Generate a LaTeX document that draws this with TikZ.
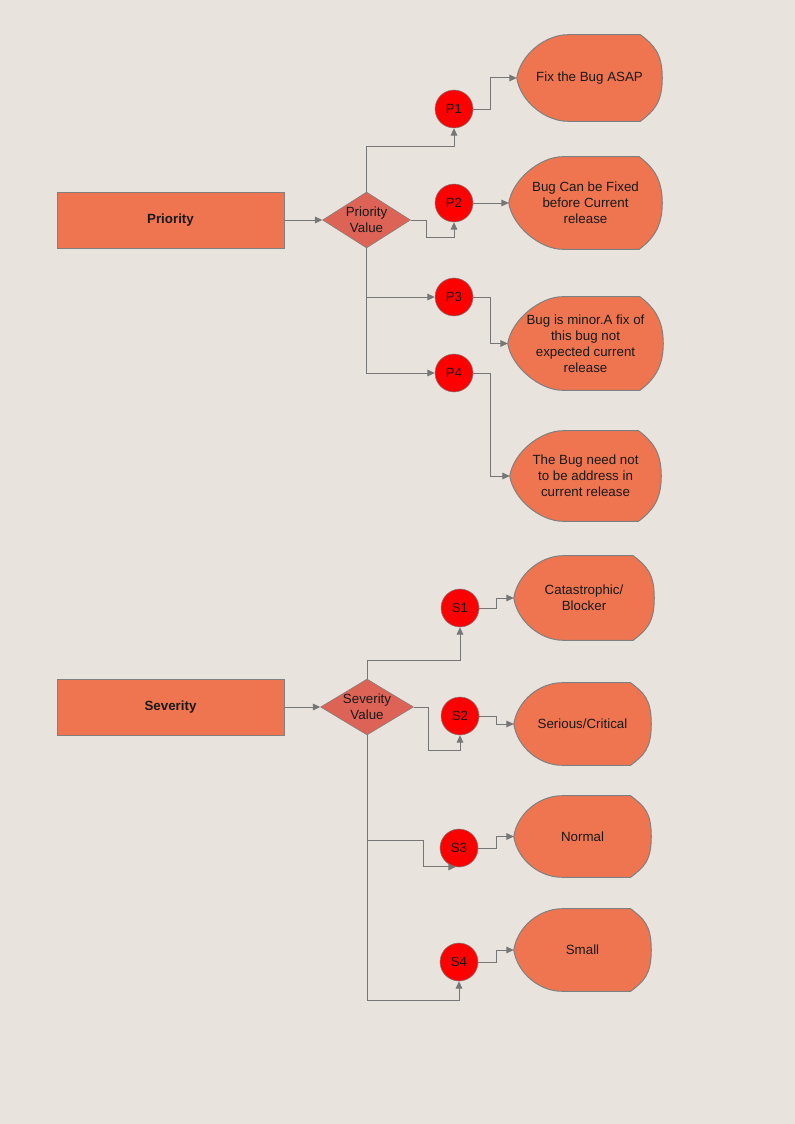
\documentclass[tikz,border=0pt]{standalone}
\usepackage{fontspec}
\setmainfont{Liberation Sans}
\usetikzlibrary{positioning,calc,arrows.meta,backgrounds,shapes.geometric}
\definecolor{pagebg}{RGB}{232,228,221}
\definecolor{boxorange}{RGB}{238,117,79}
\definecolor{diamondred}{RGB}{221,99,86}
\definecolor{edgegray}{RGB}{128,128,128}
\definecolor{conngray}{RGB}{118,118,118}
\definecolor{textdark}{RGB}{25,25,25}
\tikzset{
    every node/.style={font=\fontsize{10}{12}\selectfont, text=textdark},
    box/.style={%
        draw=edgegray, fill=boxorange,
        minimum width=170.25pt,
        minimum height=42pt,
        font=\fontsize{10}{12}\selectfont\bfseries
    },
    decision/.style={%
        diamond, draw=edgegray, fill=diamondred,
        minimum width=#1, minimum height=42pt,
        shape aspect=1.6, inner sep=-1.5pt, align=center
    },
    decision/.default=66pt,
    level/.style={circle, draw=edgegray, fill=red, minimum size=28.5pt, inner sep=0pt},
    outcome/.style={minimum width=#1, inner sep=0pt, align=center},
    outcome/.default=102.75pt,
    outcome line/.style={draw=edgegray, fill=boxorange, line width=0.75pt},
    conn/.style={draw=conngray, line width=0.75pt, -{Triangle[length=5.5pt,width=5pt]}}
}
% outline of an outcome, drawn behind its text node
\newcommand{\outcomeshape}[1]{%
    \begin{pgfonlayer}{background}
        \path[outcome line] (#1.west)
            .. controls +(4,-24) and +(-22,0) .. ($(#1.north west)!0.35!(#1.north east)$)
            -- ($(#1.north west)!0.85!(#1.north east)$)
            .. controls +(13,10) and +(0,-25) .. (#1.east)
            .. controls +(0,25) and +(13,-10) .. ($(#1.south west)!0.85!(#1.south east)$)
            -- ($(#1.south west)!0.35!(#1.south east)$)
            .. controls +(-22,0) and +(4,24) .. (#1.west) -- cycle;
    \end{pgfonlayer}}

\begin{document}
\begin{tikzpicture}[x=0.75pt,y=-0.75pt]
    \begin{pgfonlayer}{background}
        \fill[pagebg] (0,0) rectangle (795,1124);
    \end{pgfonlayer}
    \useasboundingbox (0,0) rectangle (795,1124);

    % priority
    \node[box] (prio) at (170.5,220) {Priority};
    \node[decision, right=28.5pt of prio] (pv) {Priority\\Value};
    \node[level] (p1) at (454,109) {P1};
    \node[level] (p2) at (454,203) {P2};
    \node[level] (p3) at (454,297) {P3};
    \node[level] (p4) at (454,373) {P4};
    \node[outcome=108.75pt, minimum height=64.5pt] (o1) at (589.5,78) {Fix the Bug ASAP};
    \node[outcome=114.75pt, minimum height=69pt] (o2) at (585.5,203) {Bug Can be Fixed\\before Current\\release};
    \node[outcome=116.25pt, minimum height=69.75pt] (o3) at (585.5,343.5) {Bug is minor.A fix of\\this bug not\\expected current\\release};
    \node[outcome=113.25pt, minimum height=67.5pt] (o4) at (585.5,476) {The Bug need not\\to be address in\\current release};
    \outcomeshape{o1}
    \outcomeshape{o2}
    \outcomeshape{o3}
    \outcomeshape{o4}

    \draw[conn] (prio) -- (pv);
    \draw[conn] (pv.north) -- ++(0,-45) -| (p1.south);
    \draw[conn] (pv.east) -| ++(16,17) -| (p2.south);
    \draw[conn] (pv.south) |- (p3.west);
    \draw[conn] (pv.south) |- (p4.west);
    \draw[conn] (p1.east) -- ++(17,0) |- (o1.west);
    \draw[conn] (p2.east) -- (o2.west);
    \draw[conn] (p3.east) -- ++(17,0) |- (o3.west);
    \draw[conn] (p4.east) -- ++(17,0) |- (o4.west);

    % severity
    \node[box] (sev) at (170.5,707) {Severity};
    \node[decision=69.75pt, right=27pt of sev] (sv) {Severity\\Value};
    \node[level] (s1) at (460,608) {S1};
    \node[level] (s2) at (460,716) {S2};
    \node[level] (s3) at (459,848) {S3};
    \node[level] (s4) at (459,962) {S4};
    \node[outcome=105pt, minimum height=63pt] (os1) at (584,598) {Catastrophic/\\Blocker};
    \node[outcome, minimum height=61.5pt] (os2) at (582.5,724) {Serious/Critical};
    \node[outcome, minimum height=60.75pt] (os3) at (582.5,836.5) {Normal};
    \node[outcome, minimum height=61.5pt] (os4) at (582.5,950) {Small};
    \outcomeshape{os1}
    \outcomeshape{os2}
    \outcomeshape{os3}
    \outcomeshape{os4}

    \draw[conn] (sev) -- (sv);
    \draw[conn] (sv.north) -- ++(0,-18) -| (s1.south);
    \draw[conn] (sv.east) -| ++(15,43) -| (s2.south);
    \draw[conn] (sv.south) |- ++(56,105) |- (s3.-100);
    \draw[conn] (sv.south) -- ++(0,265) -| (s4.south);
    \draw[conn] (s1.east) -- ++(17,0) |- (os1.west);
    \draw[conn] (s2.east) -- ++(17,0) |- (os2.west);
    \draw[conn] (s3.east) -- ++(18,0) |- (os3.west);
    \draw[conn] (s4.east) -- ++(18,0) |- (os4.west);
\end{tikzpicture}
\end{document}
